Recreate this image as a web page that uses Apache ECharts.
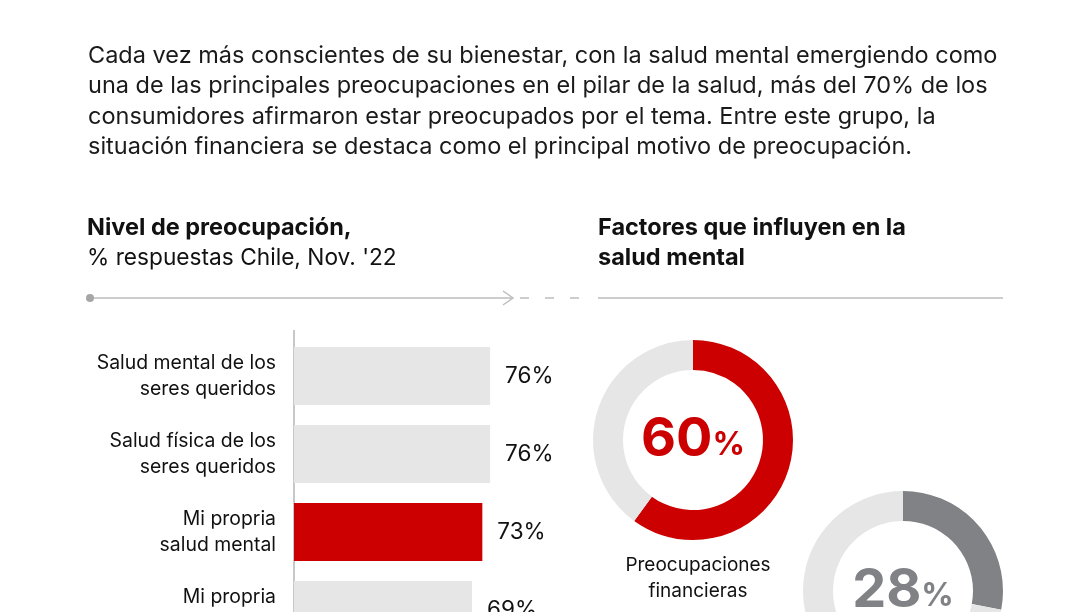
<!DOCTYPE html>
<html>
<head>
    <meta charset="utf-8">
    <script src="https://cdn.jsdelivr.net/npm/echarts@6/dist/echarts.min.js"></script>
    <style>
    html, body { margin: 0; padding: 0; background: #fff; }
    #main { width: 1080px; height: 612px; }
    </style>
    <title>Nivel de preocupación</title>
</head>
<body>
    <div id="main"></div>
    <script type="text/javascript">

        // datos
        var categorias = ['Salud mental de los\nseres queridos', 'Salud física de los\nseres queridos',
                          'Mi propria\nsalud mental', 'Mi propria\nsalud física'];
        var valores = [76, 76, 73, 69];
        var destacado = 2;   // barra roja

        var factores = ['Preocupaciones\nfinancieras', ''];
        var factoresValores = [60, 28];

        var parrafo = [
            'Cada vez más conscientes de su bienestar, con la salud mental emergiendo como',
            'una de las principales preocupaciones en el pilar de la salud, más del 70% de los',
            'consumidores afirmaron estar preocupados por el tema. Entre este grupo, la',
            'situación financiera se destaca como el principal motivo de preocupación.'
        ];

        var ROJO = '#cc0000', GRIS = '#e6e6e6', GRIS_OSCURO = '#808285';
        var FONT = 'Inter, "Noto Sans", sans-serif';

        var myChart = echarts.init(document.getElementById('main'));

        var graficos = [];
        parrafo.forEach(function (t, i) {
            graficos.push({ type: 'text', style: {
                text: t, x: 88, y: 56 + i * 30.3, fill: '#1a1a1a',
                font: '23.5px ' + FONT, verticalAlign: 'middle' } });
        });
        graficos.push(
            { type: 'text', style: { text: 'Nivel de preocupación,', x: 87, y: 228, fill: '#111',
                font: 'bold 23.5px ' + FONT, verticalAlign: 'middle' } },
            { type: 'text', style: { text: "% respuestas Chile, Nov. '22", x: 87, y: 258, fill: '#111',
                font: '22.7px ' + FONT, verticalAlign: 'middle' } },
            { type: 'text', style: { text: 'Factores que influyen en la', x: 598, y: 228, fill: '#111',
                font: 'bold 23.5px ' + FONT, verticalAlign: 'middle' } },
            { type: 'text', style: { text: 'salud mental', x: 598, y: 258, fill: '#111',
                font: 'bold 23.5px ' + FONT, verticalAlign: 'middle' } },
            // linea divisoria
            { type: 'line', shape: { x1: 90, y1: 298, x2: 512, y2: 298 }, style: { stroke: '#bdbdbd', lineWidth: 1.5 } },
            { type: 'circle', shape: { cx: 90, cy: 298, r: 4 }, style: { fill: '#a6a6a6' } },
            { type: 'polyline', shape: { points: [[503, 291], [513, 298], [503, 305]] },
              style: { stroke: '#bdbdbd', lineWidth: 1.5, fill: null } },
            { type: 'line', shape: { x1: 520, y1: 298, x2: 585, y2: 298 },
              style: { stroke: '#bdbdbd', lineWidth: 1.5, lineDash: [9, 16] } },
            { type: 'line', shape: { x1: 598, y1: 298, x2: 1003, y2: 298 }, style: { stroke: '#bdbdbd', lineWidth: 1.5 } },
            // prolongacion del eje hacia arriba
            { type: 'line', shape: { x1: 294, y1: 330, x2: 294, y2: 338 }, style: { stroke: '#c8c8c8', lineWidth: 2 } }
        );

        function dona(idx, cx, cy, color) {
            var v = factoresValores[idx];
            return {
                type: 'pie', silent: true,
                center: [cx, cy], radius: [70, 100],
                startAngle: 90, clockwise: true,
                labelLine: { show: false },
                data: [
                    { value: v, name: factores[idx], itemStyle: { color: color },
                      label: { show: true, position: 'center',
                               formatter: '{n|' + v + '}{p|%}',
                               rich: {
                                   n: { fontSize: 54, fontWeight: 'bold', color: color, fontFamily: FONT },
                                   p: { fontSize: 32, fontWeight: 'bold', color: color, fontFamily: FONT, padding: [10, 0, 0, 0] }
                               } } },
                    { value: 100 - v, name: 'resto', itemStyle: { color: GRIS }, label: { show: false } }
                ]
            };
        }

        var option = {
            backgroundColor: '#fff',
            animation: false,
            graphic: graficos,
            grid: { left: 294, top: 337, width: 258, height: 312, outerBoundsMode: 'none', containLabel: false },
            xAxis: { type: 'value', min: 0, max: 100, show: false },
            yAxis: {
                type: 'category', inverse: true, data: categorias,
                axisLine: { show: true, lineStyle: { color: '#c8c8c8', width: 2 } },
                axisTick: { show: false },
                axisLabel: { margin: 18, fontSize: 19.4, lineHeight: 26, color: '#111', fontFamily: FONT, align: 'right' }
            },
            title: [
                { text: factores[0], left: 693, top: 547, textAlign: 'center',
                  textStyle: { fontSize: 19, fontWeight: 'normal', color: '#111', fontFamily: FONT, lineHeight: 26 } }
            ],
            series: [
                {
                    type: 'bar', silent: true, barWidth: 58,
                    data: valores.map(function (v, i) {
                        return { value: v, itemStyle: { color: i === destacado ? ROJO : GRIS } };
                    }),
                    label: { show: true, position: 'right', distance: 15, formatter: '{c}%',
                             fontSize: 22.5, color: '#111', fontFamily: FONT }
                },
                dona(0, 693, 440, ROJO),
                dona(1, 903, 591, GRIS_OSCURO)
            ]
        };
        myChart.setOption(option);

    </script>
</body>
</html>
